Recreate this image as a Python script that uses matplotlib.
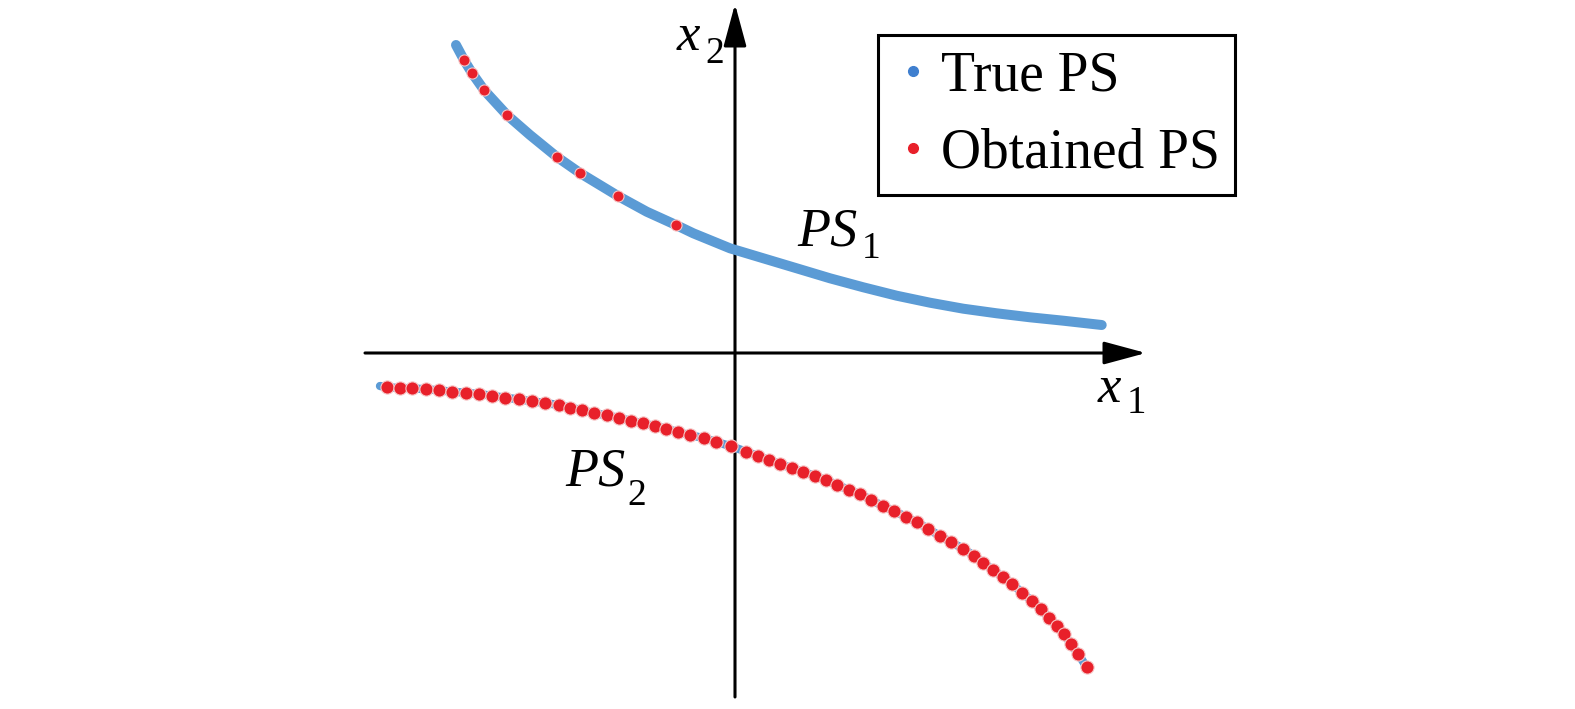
import matplotlib
matplotlib.use('Agg')
import matplotlib.pyplot as plt
from matplotlib.lines import Line2D

# coordinates relative to the origin of the sketch axes
# true PS1 (upper branch)
ps1_x = [-279, -271, -263, -251, -228, -205, -178, -155, -117, -88.3, -59, -41.7,
         -5, 28.3, 61.7, 95, 128.3, 161.7, 195, 228.3, 261.7, 295, 328.3, 366.7]
ps1_y = [308, 293, 280, 263, 238, 218, 196, 180, 157, 141.3, 128, 119.7,
         104.7, 94.7, 84.7, 74.7, 65.7, 57.3, 50.3, 44.3, 39.7, 35.7, 32.3, 28]

# obtained points on PS1
ob1_x = [-271, -262.7, -251.3, -228.3, -178.3, -155, -116.7, -59]
ob1_y = [293, 280.3, 263, 238, 196, 180.3, 157.3, 127.7]

# obtained points on PS2 (lower branch)
ob2_x = [-347.7, -335, -322.7, -309.3, -296, -282.7, -269.3, -256.3, -243, -229.7,
         -216.3, -203, -189.7, -176.3, -165, -152.7, -140.7, -128, -116.3, -104.3,
         -92.3, -80.3, -68.7, -56.7, -44.7, -31.3, -19.3, -4, 11, 22.7,
         34, 45.3, 56.7, 68.3, 79.7, 91, 102.3, 113.7, 125, 136.3,
         147.7, 159, 170.7, 182, 193.3, 205, 216.3, 228.3, 238.7, 248.3,
         258.3, 268.3, 277.3, 287, 297, 306, 313.7, 321.7, 329.3, 335.7,
         343.3, 351.7]
ob2_y = [-34.3, -35, -35.3, -36.3, -37.3, -38.7, -39.7, -41, -42.7, -44.7,
         -46.3, -48.3, -50, -52, -54.5, -57.3, -60.3, -62.3, -65, -67.7,
         -70.3, -73, -75.7, -79.3, -82.3, -85, -88.7, -93.3, -98.5, -103,
         -107, -111, -115.3, -118.7, -123, -127.3, -131.7, -137, -141, -147,
         -153, -158, -163.7, -169.3, -176, -183, -189.3, -195.7, -202.7, -209.7,
         -217.3, -224.3, -231, -239.7, -248, -256, -264.7, -272.7, -281, -291,
         -301, -314.3]

# true PS2 follows the obtained set, starting slightly further left
ps2_x = [-355] + ob2_x
ps2_y = [-33] + ob2_y

blue = '#5B9BD5'
red = '#E8202A'
serif = 'Liberation Serif'

fig = plt.figure(figsize=(15.75, 7.09), dpi=100)
ax = fig.add_axes([0, 0, 1, 1])
ax.set_xlim(-735, 840)
ax.set_ylim(-356, 353)
ax.axis('off')

# axes with arrow heads
arrow = dict(arrowstyle='-|>,head_length=1.0,head_width=0.27', lw=2.2,
             color='k', mutation_scale=26, shrinkA=0, shrinkB=0)
ax.annotate('', xy=(411, 0), xytext=(-370, 0), arrowprops=arrow, zorder=1)
ax.annotate('', xy=(0, 349), xytext=(0, -344), arrowprops=arrow, zorder=1)

# curves
ax.plot(ps1_x, ps1_y, color=blue, lw=7.2, solid_capstyle='round',
        solid_joinstyle='round', zorder=2)
ax.plot(ps2_x, ps2_y, color=blue, lw=6, solid_capstyle='round',
        solid_joinstyle='round', zorder=2)
ax.plot(ob1_x, ob1_y, 'o', color=red, ms=8, mec='#F6C6C6', mew=0.8, zorder=3)
ax.plot(ob2_x, ob2_y, 'o', color=red, ms=9.5, mec='#F6C6C6', mew=0.8, zorder=3)

# labels
ax.text(62, 108, 'PS', family=serif, style='italic', fontsize=39, va='baseline')
ax.text(127, 95, '1', family=serif, fontsize=27, va='baseline')
ax.text(-170, -132, 'PS', family=serif, style='italic', fontsize=39, va='baseline')
ax.text(-108, -152, '2', family=serif, fontsize=27, va='baseline')
ax.text(363, -49, 'x', family=serif, style='italic', fontsize=38, va='baseline')
ax.text(392, -60, '1', family=serif, fontsize=28, va='baseline')
ax.text(-58, 303, 'x', family=serif, style='italic', fontsize=38, va='baseline')
ax.text(-30, 290, '2', family=serif, fontsize=27, va='baseline')

handles = [
    Line2D([], [], ls='none', marker='o', ms=7, color='#3F7FCF', label='True PS'),
    Line2D([], [], ls='none', marker='o', ms=7, color=red, label='Obtained PS'),
]
leg = ax.legend(handles=handles, loc='upper left', bbox_to_anchor=(878 / 1575, 1 - 35 / 709),
                prop={'family': serif, 'size': 40}, frameon=True, fancybox=False,
                edgecolor='k', framealpha=1, borderpad=0.28, labelspacing=0.45,
                handlelength=0.7, handletextpad=0.15, borderaxespad=0)
leg.get_frame().set_linewidth(2.2)

fig.savefig('out.png', dpi=100)
